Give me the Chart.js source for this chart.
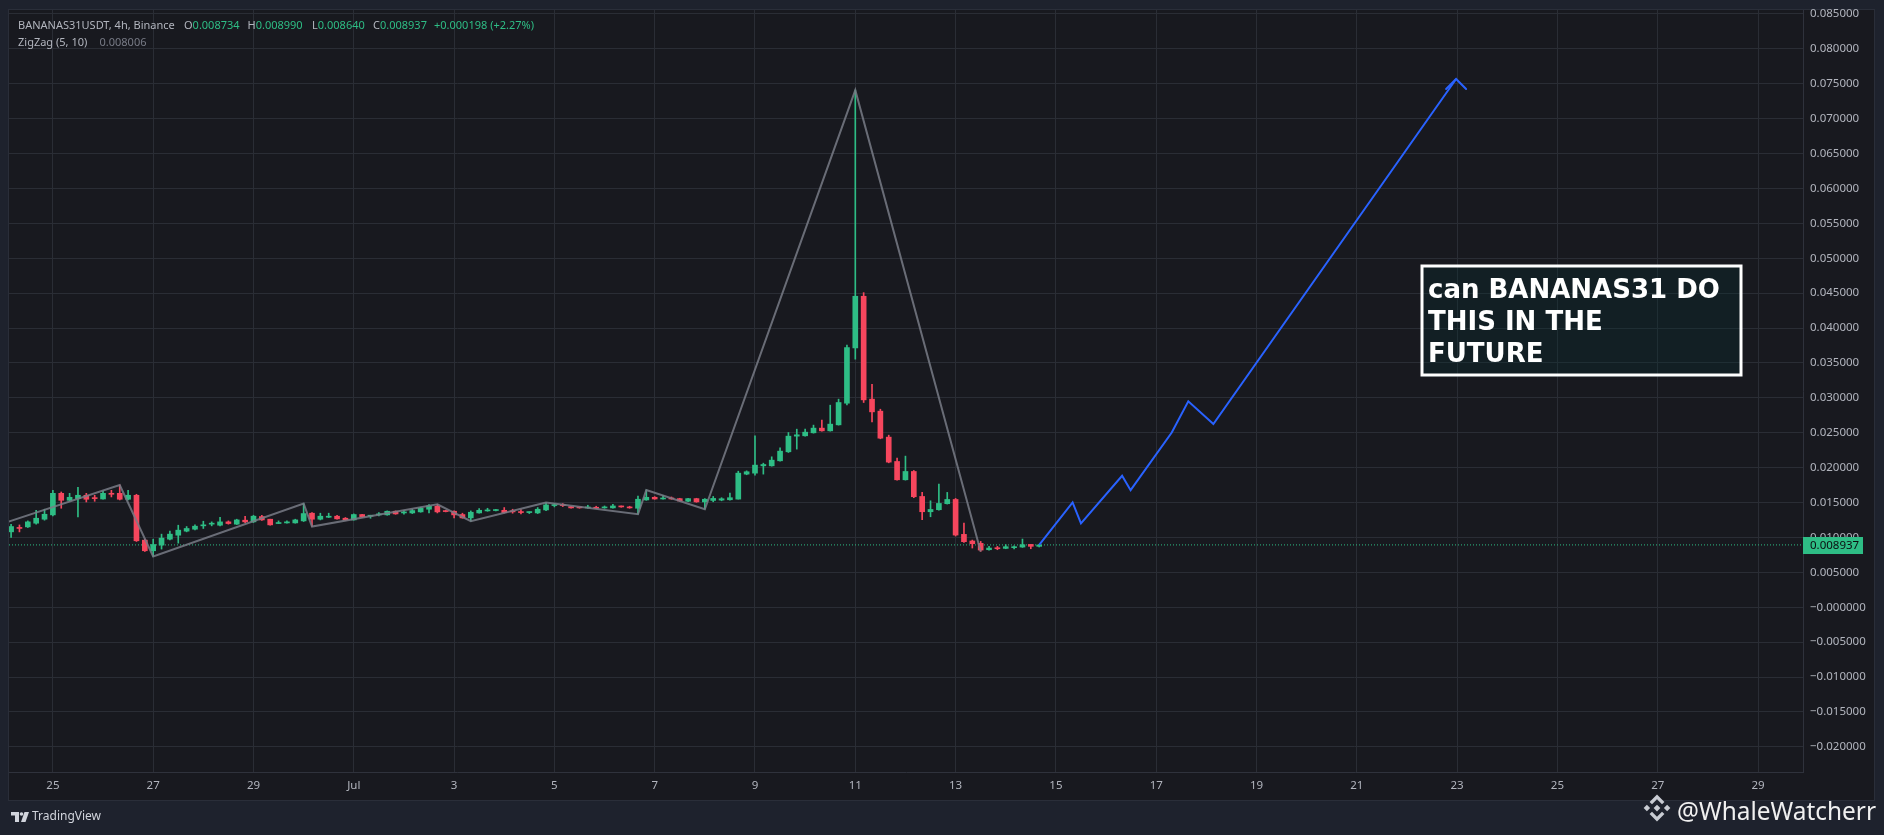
<!DOCTYPE html>
<html>
<head>
<meta charset="utf-8">
<title>BANANAS31USDT 4h</title>
<script src="https://cdn.jsdelivr.net/npm/chart.js@4.4.1/dist/chart.umd.min.js"></script>
<style>
  html, body { margin: 0; padding: 0; background: #1e222d; overflow: hidden; }
  #wrap { position: relative; width: 1884px; height: 835px; }
</style>
</head>
<body>
<div id="wrap"><canvas id="chart" width="1884" height="835"></canvas></div>
<script>
// x is a day number counted from May 31: 25 = Jun 25, 31 = Jul 1, 41 = Jul 11
const xTickValues = [25, 27, 29, 31, 33, 35, 37, 39, 41, 43, 45, 47, 49, 51, 53, 55, 57, 59];
const xTickLabels = ['25', '27', '29', 'Jul', '3', '5', '7', '9', '11', '13', '15', '17', '19', '21', '23', '25', '27', '29'];
const yTickValues = [-0.02, -0.015, -0.01, -0.005, 0, 0.005, 0.01, 0.015, 0.02, 0.025, 0.03, 0.035,
  0.04, 0.045, 0.05, 0.055, 0.06, 0.065, 0.07, 0.075, 0.08, 0.085];

// 4h candles, first one is Jun 24 04:00
const firstCandle = 24 + 1 / 6;
const candleStep = 1 / 6;
const candleOpen = [
  0.01081, 0.0114, 0.01152, 0.01205, 0.01262, 0.01324, 0.01633, 0.01533, 0.01557, 0.01605,
  0.01567, 0.01552, 0.01629, 0.01633, 0.01548, 0.01605, 0.00962, 0.0081, 0.00891, 0.00976,
  0.01033, 0.01091, 0.01119, 0.01167, 0.01191, 0.01176, 0.01224, 0.01191, 0.01248, 0.01224,
  0.013, 0.01262, 0.012, 0.01209, 0.01209, 0.01238, 0.01348, 0.01262, 0.0129, 0.01305,
  0.01276, 0.01252, 0.01329, 0.01305, 0.01324, 0.01324, 0.01376, 0.01352, 0.01352, 0.01367,
  0.01405, 0.01448, 0.01381, 0.01376, 0.01329, 0.01281, 0.01352, 0.01381, 0.01386, 0.0139,
  0.01381, 0.01371, 0.01357, 0.01352, 0.01395, 0.01457, 0.01471, 0.01443, 0.01433, 0.01424,
  0.01433, 0.01424, 0.01424, 0.01448, 0.01438, 0.01419, 0.01538, 0.01576, 0.01552, 0.01567,
  0.01557, 0.01519, 0.01557, 0.0151, 0.01531, 0.01536, 0.01541, 0.0155, 0.01908, 0.01922,
  0.02027, 0.02027, 0.02099, 0.02228, 0.02452, 0.02457, 0.025, 0.02567, 0.02528, 0.02614,
  0.02924, 0.03716, 0.04456, 0.02982, 0.0281, 0.02438, 0.02089, 0.01827, 0.01946, 0.01588,
  0.01369, 0.01398, 0.01484, 0.01545, 0.01045, 0.0095, 0.00916, 0.00825, 0.00849, 0.00844,
  0.00854, 0.00863, 0.00901, 0.008734
];
const candleHigh = [
  0.0119, 0.0118, 0.01238, 0.0139, 0.01405, 0.01676, 0.01652, 0.01633, 0.01719, 0.01633,
  0.01605, 0.01667, 0.01676, 0.01752, 0.01676, 0.01619, 0.00976, 0.00976, 0.01048, 0.01091,
  0.01176, 0.01157, 0.01181, 0.01233, 0.01224, 0.0129, 0.01238, 0.01262, 0.01305, 0.01319,
  0.01319, 0.01262, 0.01238, 0.01238, 0.01262, 0.01486, 0.01357, 0.01348, 0.01348, 0.01319,
  0.01286, 0.01338, 0.01333, 0.01319, 0.01357, 0.01381, 0.01381, 0.01386, 0.01405, 0.01433,
  0.01471, 0.01476, 0.0139, 0.01381, 0.01348, 0.01381, 0.01414, 0.01419, 0.01405, 0.01429,
  0.01405, 0.014, 0.01367, 0.01429, 0.015, 0.01486, 0.01486, 0.01448, 0.01433, 0.01462,
  0.01448, 0.01452, 0.01476, 0.01452, 0.01448, 0.01595, 0.01681, 0.01586, 0.016, 0.01581,
  0.01562, 0.01562, 0.01562, 0.01557, 0.01588, 0.0157, 0.01636, 0.0195, 0.01955, 0.02457,
  0.02065, 0.02156, 0.02285, 0.02504, 0.02552, 0.02552, 0.0261, 0.02681, 0.02896, 0.02982,
  0.03755, 0.07409, 0.04508, 0.03196, 0.02838, 0.02466, 0.02137, 0.02166, 0.0196, 0.01646,
  0.01526, 0.01765, 0.01646, 0.0156, 0.01207, 0.00963, 0.00944, 0.00873, 0.00873, 0.00897,
  0.00882, 0.00978, 0.00901, 0.00899
];
const candleLow = [
  0.01, 0.0108, 0.01143, 0.0119, 0.01248, 0.0131, 0.01419, 0.01524, 0.01295, 0.01509,
  0.01519, 0.01548, 0.01581, 0.01538, 0.01538, 0.00943, 0.008, 0.00729, 0.00834, 0.00967,
  0.00919, 0.01081, 0.0111, 0.01129, 0.01167, 0.01167, 0.01191, 0.01186, 0.01214, 0.01214,
  0.01243, 0.01176, 0.012, 0.01205, 0.01205, 0.01229, 0.01157, 0.01252, 0.01286, 0.01262,
  0.01248, 0.01248, 0.01286, 0.01276, 0.0131, 0.01319, 0.01333, 0.01333, 0.01343, 0.01362,
  0.01352, 0.01352, 0.01367, 0.01281, 0.01276, 0.01233, 0.01348, 0.01376, 0.01381, 0.01352,
  0.01348, 0.01338, 0.01343, 0.01343, 0.01386, 0.01438, 0.01443, 0.01419, 0.01419, 0.01419,
  0.01414, 0.01419, 0.01419, 0.01433, 0.01419, 0.01333, 0.01533, 0.01548, 0.01548, 0.01548,
  0.01519, 0.01514, 0.01505, 0.01405, 0.01512, 0.01526, 0.01536, 0.0155, 0.01899, 0.01894,
  0.01908, 0.02022, 0.02094, 0.02218, 0.02266, 0.02452, 0.02495, 0.02524, 0.02524, 0.0261,
  0.029, 0.03554, 0.02934, 0.02657, 0.02414, 0.0207, 0.01822, 0.01822, 0.0157, 0.01254,
  0.01297, 0.01393, 0.01479, 0.01021, 0.0093, 0.00849, 0.00801, 0.0082, 0.00825, 0.00839,
  0.00835, 0.00858, 0.00839, 0.00864
];
const candleClose = [
  0.01157, 0.0113, 0.01224, 0.01276, 0.01333, 0.01633, 0.01533, 0.01576, 0.01605, 0.01548,
  0.01557, 0.01633, 0.01619, 0.01548, 0.01605, 0.00953, 0.0081, 0.009, 0.00991, 0.01048,
  0.01105, 0.01129, 0.01162, 0.01181, 0.01205, 0.01224, 0.012, 0.01252, 0.01224, 0.01305,
  0.01252, 0.01181, 0.01214, 0.01224, 0.01252, 0.01343, 0.01262, 0.01305, 0.01305, 0.01267,
  0.01252, 0.01329, 0.01295, 0.01314, 0.01338, 0.01376, 0.01338, 0.01367, 0.01386, 0.01419,
  0.01452, 0.01367, 0.01371, 0.01324, 0.01281, 0.01362, 0.0139, 0.01395, 0.01395, 0.01357,
  0.01367, 0.01357, 0.01367, 0.01405, 0.01467, 0.01471, 0.01457, 0.01424, 0.01424, 0.01433,
  0.01419, 0.01438, 0.01452, 0.01438, 0.01424, 0.01548, 0.01576, 0.01552, 0.01562, 0.01552,
  0.01524, 0.01557, 0.0151, 0.01548, 0.0156, 0.01555, 0.0157, 0.01922, 0.01942, 0.02037,
  0.02046, 0.02108, 0.02237, 0.02452, 0.02471, 0.02509, 0.02567, 0.02528, 0.02624, 0.02934,
  0.03721, 0.04456, 0.02972, 0.028, 0.02423, 0.0208, 0.01827, 0.01946, 0.01584, 0.01369,
  0.01402, 0.01488, 0.01545, 0.01035, 0.0094, 0.00911, 0.0082, 0.00849, 0.00839, 0.00868,
  0.00863, 0.00897, 0.008734, 0.008937
];

// ZigZag (5, 10) pivots
const zigzagTime = [24.1, 26.333, 27.0, 30.0, 30.167, 32.667, 33.333, 34.833, 36.667, 36.833, 38.0, 41.0, 43.5];
const zigzagPrice = [0.01223, 0.01752, 0.00729, 0.01486, 0.01157, 0.01476, 0.01233, 0.015, 0.01333, 0.01681, 0.01405, 0.07409, 0.00801];

// hand drawn blue path
const projectionTime = [44.667, 45.333, 45.5, 46.32, 46.49, 47.31, 47.64, 48.14, 52.98];
const projectionPrice = [0.008937, 0.01503, 0.01202, 0.01884, 0.01678, 0.02504, 0.02951, 0.02625, 0.07569];

const lastPrice = 0.008937;
const xMin = 24.125, xMax = 59.897;
const yMin = -0.023596, yMax = 0.085573;

const green = '#2ebd85';
const red = '#f6465d';
const gridColor = '#2a2d35';
const tickColor = '#b2b5be';

const times = candleOpen.map((_, i) => firstCandle + i * candleStep);
const candleColors = candleOpen.map((o, i) => candleClose[i] >= o ? green : red);

function fmtPrice(v) {
  const s = Math.abs(v).toFixed(6);
  return v < 0.0000001 ? '\u2212' + s : s;
}

const decor = {
  id: 'decor',
  beforeDraw(chart) {
    const c = chart.ctx;
    c.save();
    c.fillStyle = '#1e222d';
    c.fillRect(0, 0, chart.width, chart.height);
    c.fillStyle = '#18191f';
    c.fillRect(9, 10, 1865, 790);
    c.strokeStyle = '#2a2e39';
    c.lineWidth = 1;
    c.strokeRect(8.5, 9.5, 1866, 791);
    c.restore();
  },
  afterDatasetsDraw(chart) {
    const c = chart.ctx;
    const meta = chart.getDatasetMeta(4);
    const tip = meta.data[meta.data.length - 1];
    c.save();
    c.strokeStyle = '#2962ff';
    c.lineWidth = 2;
    c.lineCap = 'round';
    c.beginPath();
    c.moveTo(tip.x - 10, tip.y + 10);
    c.lineTo(tip.x, tip.y);
    c.lineTo(tip.x + 10, tip.y + 10);
    c.stroke();
    c.restore();
  },
  afterDraw(chart) {
    const c = chart.ctx;
    const yScale = chart.scales.y;
    c.save();

    // clip the half label above the panel
    c.fillStyle = '#1e222d';
    c.fillRect(0, 0, chart.width, 9);

    // legend rows
    c.textBaseline = 'alphabetic';
    c.font = '11px "Noto Sans"';
    c.fillStyle = tickColor;
    c.fillText('BANANAS31USDT, 4h, Binance', 18, 29);
    const ohlc = [['O', '0.008734', 184], ['H', '0.008990', 247.5], ['L', '0.008640', 312], ['C', '0.008937', 373]];
    ohlc.forEach(([k, v, x]) => {
      c.fillStyle = tickColor;
      c.fillText(k, x, 29);
      c.fillStyle = green;
      c.fillText(v, x + c.measureText(k).width, 29);
    });
    c.fillStyle = green;
    c.fillText('+0.000198 (+2.27%)', 434, 29);
    c.fillStyle = tickColor;
    c.fillText('ZigZag (5, 10)', 18, 45.5);
    c.fillStyle = '#787b86';
    c.fillText('0.008006', 99.5, 45.5);

    // last price label
    const py = yScale.getPixelForValue(lastPrice);
    c.fillStyle = green;
    c.fillRect(1803, Math.round(py) - 8, 60, 17);
    c.fillStyle = '#0c0d10';
    c.font = '11.5px "Noto Sans"';
    c.textBaseline = 'middle';
    c.fillText(lastPrice.toFixed(6), 1810, Math.round(py) + 0.5);

    // text box
    c.fillStyle = 'rgba(0, 50, 50, 0.25)';
    c.fillRect(1421, 265, 321, 112);
    c.strokeStyle = '#ffffff';
    c.lineWidth = 3;
    c.strokeRect(1422, 266, 319, 109);
    c.fillStyle = '#ffffff';
    c.font = 'bold 26px "DejaVu Sans"';
    c.textBaseline = 'alphabetic';
    c.fillText('can BANANAS31 DO', 1428, 298);
    c.fillText('THIS IN THE', 1428, 330);
    c.fillText('FUTURE', 1428, 362);

    // TradingView mark
    c.fillStyle = '#d1d4dc';
    c.fillRect(11, 812, 8, 3.5);
    c.fillRect(15, 812, 4, 10);
    c.beginPath();
    c.arc(21.5, 814, 1.8, 0, Math.PI * 2);
    c.fill();
    c.beginPath();
    c.moveTo(24.5, 812);
    c.lineTo(29, 812);
    c.lineTo(25.5, 822);
    c.lineTo(21, 822);
    c.closePath();
    c.fill();
    c.font = '12px "Noto Sans"';
    c.textBaseline = 'middle';
    c.fillText('TradingView', 32, 817);

    // Binance mark + handle
    const bx = 1657, by = 808, s = 13.5;
    c.fillStyle = '#c9ccd3';
    const poly = pts => {
      c.beginPath();
      pts.forEach(([px, qy], i) => i ? c.lineTo(bx + px * s, by + qy * s) : c.moveTo(bx + px * s, by + qy * s));
      c.closePath();
      c.fill();
    };
    poly([[0, -0.25], [0.25, 0], [0, 0.25], [-0.25, 0]]);
    poly([[-0.75, -0.24], [-0.51, 0], [-0.75, 0.24], [-0.99, 0]]);
    poly([[0.75, -0.24], [0.99, 0], [0.75, 0.24], [0.51, 0]]);
    poly([[0, -1], [0.55, -0.45], [0.37, -0.27], [0, -0.64], [-0.37, -0.27], [-0.55, -0.45]]);
    poly([[0, 1], [0.55, 0.45], [0.37, 0.27], [0, 0.64], [-0.37, 0.27], [-0.55, 0.45]]);
    c.fillStyle = '#f0f0f0';
    c.font = '25px "Noto Sans"';
    c.textBaseline = 'alphabetic';
    const handle = '@WhaleWatcherr';
    const w = c.measureText(handle).width;
    c.translate(1677, 820);
    c.scale(Math.min(1, 199 / w), 1);
    c.fillText(handle, 0, 0);
    c.restore();
  }
};

new Chart(document.getElementById('chart'), {
  type: 'line',
  data: {
    datasets: [
      {
        label: 'last price',
        data: [{ x: xMin, y: lastPrice }, { x: xMax, y: lastPrice }],
        borderColor: green,
        borderWidth: 1,
        borderDash: [1, 2],
        pointRadius: 0,
        order: 6
      },
      {
        label: 'wicks',
        type: 'bar',
        data: times.map((t, i) => ({ x: t, y: [candleLow[i], candleHigh[i]] })),
        backgroundColor: candleColors,
        barThickness: 1,
        minBarLength: 1,
        grouped: false,
        order: 5
      },
      {
        label: 'bodies',
        type: 'bar',
        data: times.map((t, i) => ({ x: t, y: [candleOpen[i], candleClose[i]] })),
        backgroundColor: candleColors,
        barThickness: 5,
        minBarLength: 1,
        grouped: false,
        order: 4
      },
      {
        label: 'ZigZag',
        data: zigzagTime.map((t, i) => ({ x: t, y: zigzagPrice[i] })),
        borderColor: 'rgba(120, 123, 134, 0.85)',
        borderWidth: 2,
        pointRadius: 0,
        tension: 0,
        order: 3
      },
      {
        label: 'projection',
        data: projectionTime.map((t, i) => ({ x: t, y: projectionPrice[i] })),
        borderColor: '#2962ff',
        borderWidth: 2,
        pointRadius: 0,
        tension: 0,
        order: 2
      }
    ]
  },
  options: {
    animation: false,
    responsive: false,
    devicePixelRatio: 1,
    layout: { padding: { left: 9, top: 10, right: 10, bottom: 35 } },
    plugins: { legend: { display: false }, tooltip: { enabled: false } },
    scales: {
      x: {
        type: 'linear',
        min: xMin,
        max: xMax,
        offset: false,
        afterBuildTicks: s => { s.ticks = xTickValues.map(v => ({ value: v })); },
        afterFit: s => { s.height = 28; s.paddingLeft = 0; s.paddingRight = 0; },
        grid: { color: gridColor, drawTicks: false, offset: false },
        border: { color: '#2f323c' },
        ticks: {
          color: tickColor,
          font: { family: 'Noto Sans', size: 11.5 },
          padding: 7,
          maxRotation: 0,
          autoSkip: false,
          callback: v => xTickLabels[xTickValues.indexOf(v)]
        }
      },
      y: {
        type: 'linear',
        position: 'right',
        min: yMin,
        max: yMax,
        afterBuildTicks: s => { s.ticks = yTickValues.map(v => ({ value: v })); },
        afterFit: s => { s.width = 71; s.paddingTop = 0; s.paddingBottom = 0; },
        grid: { color: gridColor, drawTicks: false },
        border: { color: '#2f323c' },
        ticks: {
          color: tickColor,
          font: { family: 'Noto Sans', size: 11.5 },
          padding: 7,
          autoSkip: false,
          callback: v => fmtPrice(v)
        }
      }
    }
  },
  plugins: [decor]
});
</script>
</body>
</html>
